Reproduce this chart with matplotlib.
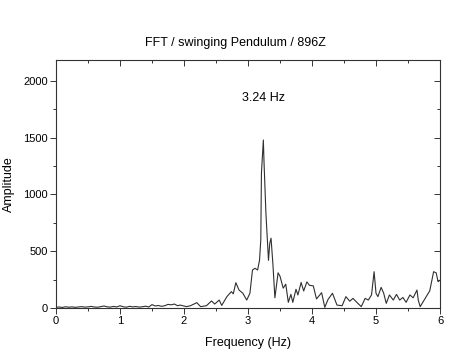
import matplotlib
matplotlib.use("Agg")
import matplotlib.pyplot as plt
from matplotlib.ticker import MultipleLocator

plt.rcParams['font.family'] = ['Liberation Sans', 'DejaVu Sans']

title = "FFT / swinging Pendulum / 896Z"
xlabel = "Frequency (Hz)"
ylabel = "Amplitude"
peak_label = "3.24 Hz"

freqs = [0.00, 0.05, 0.10, 0.15, 0.20, 0.25, 0.30, 0.35, 0.40, 0.45,
         0.50, 0.55, 0.60, 0.65, 0.70, 0.75, 0.80, 0.85, 0.90, 0.95,
         1.00, 1.05, 1.10, 1.15, 1.20, 1.25, 1.30, 1.35, 1.40, 1.45,
         1.50, 1.55, 1.60, 1.65, 1.70, 1.75, 1.80, 1.85, 1.90, 1.94,
         2.04, 2.10, 2.20, 2.26, 2.35, 2.43, 2.48, 2.55, 2.59, 2.67,
         2.74, 2.77, 2.81, 2.86, 2.92, 2.98, 3.03, 3.07, 3.11, 3.15,
         3.18, 3.20, 3.21, 3.24, 3.25, 3.28, 3.32, 3.34, 3.36, 3.39,
         3.42, 3.47, 3.50, 3.55, 3.59, 3.63, 3.67, 3.70, 3.75, 3.78,
         3.83, 3.87, 3.92, 3.96, 4.02, 4.07, 4.15, 4.20, 4.25, 4.32,
         4.39, 4.47, 4.53, 4.59, 4.64, 4.70, 4.77, 4.83, 4.88, 4.93,
         4.97, 5.00, 5.03, 5.08, 5.12, 5.16, 5.21, 5.27, 5.32, 5.37,
         5.42, 5.47, 5.53, 5.58, 5.64, 5.66, 5.69, 5.84, 5.90, 5.94,
         5.97, 6.00]

amps = [6, 9, 5, 11, 7, 10, 6, 9, 12, 8,
        10, 14, 9, 7, 12, 18, 10, 8, 14, 9,
        20, 11, 7, 15, 10, 13, 8, 11, 16, 9,
        30, 18, 22, 15, 20, 32, 28, 35, 20, 26,
        12, 20, 47, 12, 20, 62, 35, 70, 23, 100,
        144, 125, 223, 158, 130, 70, 130, 335, 350, 335,
        420, 600, 1190, 1480, 1290, 835, 420, 570, 615, 380,
        90, 310, 280, 175, 210, 50, 120, 50, 165, 115,
        225, 150, 230, 200, 195, 80, 135, 6, 75, 130,
        26, 20, 100, 60, 85, 50, 12, 85, 70, 115,
        320, 130, 100, 182, 130, 41, 115, 70, 120, 70,
        93, 50, 115, 90, 158, 70, 12, 152, 320, 310,
        232, 245]

fig = plt.figure(figsize=(4.74, 3.56), dpi=100)
ax = fig.add_axes([0.1181, 0.1348, 0.8102, 0.6967])

ax.plot(freqs, amps, color='#303030', linewidth=0.8)

ax.set_xlim(0, 6)
ax.set_ylim(0, 2185)
ax.xaxis.set_major_locator(MultipleLocator(1))
ax.xaxis.set_minor_locator(MultipleLocator(0.5))
ax.yaxis.set_major_locator(MultipleLocator(500))
ax.yaxis.set_minor_locator(MultipleLocator(250))

for s in ax.spines.values():
    s.set_linewidth(0.8)
    s.set_color('#333333')

ax.tick_params(axis='both', which='major', direction='out', length=4, width=0.7,
               labelsize=8, colors='#333333', labelcolor='black', pad=2)
ax.tick_params(axis='both', which='minor', direction='out', length=2.5, width=0.7,
               colors='#333333')
ax.tick_params(axis='both', which='both', top=False, right=False)

# mirrored inward ticks on top/right
axt = ax.secondary_xaxis('top')
axt.xaxis.set_major_locator(MultipleLocator(1))
axt.xaxis.set_minor_locator(MultipleLocator(0.5))
axt.tick_params(which='major', direction='in', length=4, width=0.7, labeltop=False, colors='#333333')
axt.tick_params(which='minor', direction='in', length=2.5, width=0.7, colors='#333333')
axt.set_xticklabels([])
axt.spines['top'].set_visible(False)

axr = ax.secondary_yaxis('right')
axr.yaxis.set_major_locator(MultipleLocator(500))
axr.yaxis.set_minor_locator(MultipleLocator(250))
axr.tick_params(which='major', direction='in', length=4, width=0.7, colors='#333333')
axr.tick_params(which='minor', direction='in', length=2.5, width=0.7, colors='#333333')
axr.set_yticklabels([])
axr.spines['right'].set_visible(False)

ax.set_xlabel(xlabel, fontsize=9, labelpad=8)
ax.set_ylabel(ylabel, fontsize=9, labelpad=6)
fig.text(235 / 474, 1 - 43 / 356, title, ha='center', va='center', fontsize=9)
ax.text(3.24, 1850, peak_label, ha='center', va='center', fontsize=9)

fig.savefig("out.png", dpi=100)
